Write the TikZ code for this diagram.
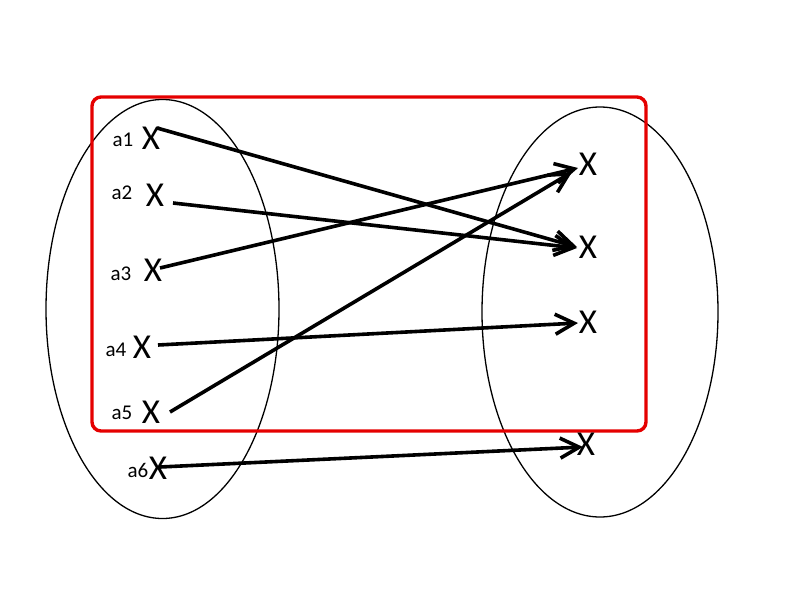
\documentclass[tikz,border=0pt]{standalone}
\usepackage{fontspec}
\setmainfont{Carlito}
\usetikzlibrary{arrows.meta}
\begin{document}
\begin{tikzpicture}[x=1pt,y=-1pt,
  bigx/.style={font=\fontsize{35}{35}\selectfont, inner sep=0pt},
  lab/.style={font=\fontsize{21}{21}\selectfont, inner sep=0pt},
  conn/.style={line width=3.6pt, -{Straight Barb[length=19pt,width=20pt,line width=3.6pt]}},
  oval/.style={draw, line width=1.3pt},
  frame/.style={draw=red!90!black, line width=3.4pt, rounded corners=9pt}]
\useasboundingbox (0,0) rectangle (800,600);
\fill[white] (0,0) rectangle (800,600);
% ellipses
\draw[oval] (162.5,309) ellipse [x radius=116.5, y radius=209.5];
\draw[oval] (600,312) ellipse [x radius=118, y radius=205];
% frame
\draw[frame] (92,97) rectangle (646,431);
% left labels and X
\node[lab] (l1) at (123,140) {a1};
\node[lab] (l2) at (122,193) {a2};
\node[lab] (l3) at (121,274) {a3};
\node[lab] (l4) at (116,350) {a4};
\node[lab] (l5) at (122,413) {a5};
\node[lab] (l6) at (138,470) {a6};
\node[bigx] (x1) at (151,138) {X};
\node[bigx] (x2) at (155,195) {X};
\node[bigx] (x3) at (153,270) {X};
\node[bigx] (x4) at (142,347) {X};
\node[bigx] (x5) at (151,412) {X};
\node[bigx] (x6) at (158,468) {X};
% right X
\node[bigx] (y1) at (588,164) {X};
\node[bigx] (y2) at (588,247) {X};
\node[bigx] (y3) at (588,322) {X};
\node[bigx] (y4) at (586,444) {X};
% connector ends
\coordinate (s1) at (157,128);
\coordinate (s2) at (173,203);
\coordinate (s3) at (160,268);
\coordinate (s4) at (158,345);
\coordinate (s5) at (170,412);
\coordinate (s6) at (160,467);
\coordinate (t1) at (577,247);
\coordinate (t2) at (577,248);
\coordinate (t3) at (578,168);
\coordinate (t4) at (578,323);
\coordinate (t5) at (572,172);
\coordinate (t6) at (583,447);
\draw[conn] (s1) -- (t1);
\draw[conn] (s2) -- (t2);
\draw[conn] (s3) -- (t3);
\draw[conn] (s4) -- (t4);
\draw[conn] (s5) -- (t5);
\draw[conn] (s6) -- (t6);
\end{tikzpicture}
\end{document}
